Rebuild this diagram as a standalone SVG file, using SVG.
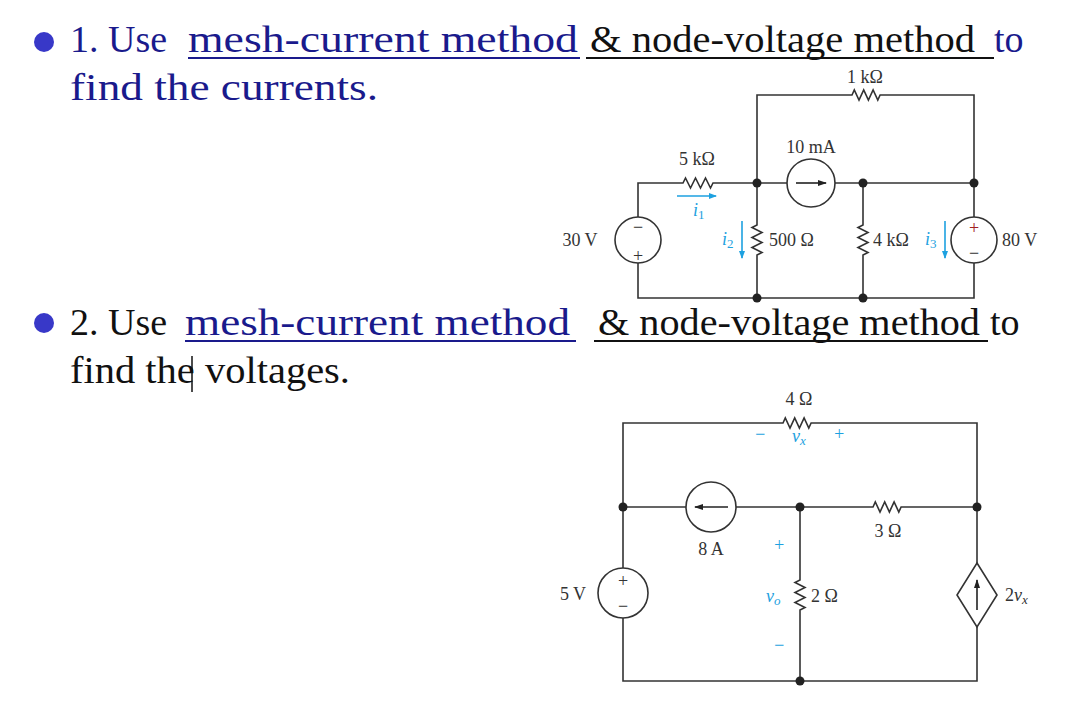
<svg xmlns="http://www.w3.org/2000/svg" width="1083" height="718" viewBox="0 0 1083 718">
<style>
.w{stroke:#333;stroke-width:1.6;fill:none}
.el{stroke:#333;stroke-width:1.6;fill:#fff}
.h{font-family:"Liberation Serif",serif;font-size:38px}
.c{font-family:"Liberation Serif",serif;font-size:18px;fill:#333}
.bl{font-family:"Liberation Serif",serif;font-size:18px;fill:#1da1e0;font-style:italic}
.dot{fill:#222}
</style>
<defs>
<marker id="ab" markerWidth="8" markerHeight="8" refX="7" refY="4" orient="auto" markerUnits="userSpaceOnUse"><path d="M0,1 L8,4 L0,7z" fill="#1da1e0"/></marker>
<marker id="ak" markerWidth="9" markerHeight="8" refX="8" refY="4" orient="auto" markerUnits="userSpaceOnUse"><path d="M0,1 L9,4 L0,7z" fill="#222"/></marker>
</defs>
<rect width="1083" height="718" fill="#fff"/>
<g id="heading1">
<circle cx="44" cy="42" r="10" fill="#3838c8"/>
<text class="h" x="70" y="52" fill="#1a1a8c">1. Use <tspan x="188" textLength="390" lengthAdjust="spacingAndGlyphs">mesh-current method</tspan><tspan x="590" fill="#111" textLength="385" lengthAdjust="spacingAndGlyphs">&amp; node-voltage method</tspan><tspan x="994">to</tspan></text>
<line x1="188" y1="58" x2="580" y2="58" stroke="#1a1a8c" stroke-width="2"/>
<line x1="586" y1="58" x2="994" y2="58" stroke="#111" stroke-width="2"/>
<text class="h" x="70" y="100" fill="#1a1a8c" textLength="308" lengthAdjust="spacingAndGlyphs">find the currents.</text>
</g>
<g id="heading2">
<circle cx="44" cy="323" r="10" fill="#3838c8"/>
<text class="h" x="70" y="335" fill="#111">2. Use <tspan x="185" fill="#1a1a8c" textLength="385" lengthAdjust="spacingAndGlyphs">mesh-current method</tspan><tspan x="598" textLength="382" lengthAdjust="spacingAndGlyphs">&amp; node-voltage method</tspan><tspan x="990">to</tspan></text>
<line x1="185" y1="341" x2="576" y2="341" stroke="#1a1a8c" stroke-width="2"/>
<line x1="594" y1="341" x2="988" y2="341" stroke="#111" stroke-width="2"/>
<text class="h" x="70" y="383" fill="#111" textLength="280" lengthAdjust="spacingAndGlyphs">find the voltages.</text>
<line x1="192" y1="356" x2="192" y2="392" stroke="#111" stroke-width="1.5"/>
</g>
<g id="connectors">
<path class="w" d="M638,217 V183 H683 l2.5,-5 5,10 5,-10 5,10 5,-10 5,10 2.5,-5 H787 M835,183 H974 V217 M757,183 V95 H852 l2.3,-5 4.7,10 4.7,-10 4.7,10 4.7,-10 4.7,10 2.3,-5 H974 V183 M757,183 V225 l-5,2.5 10,5 -10,5 10,5 -10,5 10,5 -5,2.5 V298 M863,183 V225 l-5,2.5 10,5 -10,5 10,5 -10,5 10,5 -5,2.5 V298 M638,263 V298 H974 V263"/>
<path class="w" d="M623,568 V423 H783 l2.3,-5 4.7,10 4.7,-10 4.7,10 4.7,-10 4.7,10 2.3,-5 H977 V563 M623,507 H686 M736,507 H873 l2.3,-5 4.7,10 4.7,-10 4.7,10 4.7,-10 4.7,10 2.3,-5 H977 M800,507 V580 l-5,2.5 10,5 -10,5 10,5 -10,5 10,5 -5,2.5 V681 M623,618 V681 H977 V627"/>
</g>
<g id="circuit1-nodes">
<circle class="dot" cx="757" cy="183" r="4.5"/><circle class="dot" cx="863" cy="183" r="4.5"/><circle class="dot" cx="974" cy="183" r="4.5"/>
<circle class="dot" cx="757" cy="298" r="4.5"/><circle class="dot" cx="863" cy="298" r="4.5"/>
</g>
<g id="src30V"><circle class="el" cx="638" cy="240" r="23"/><text class="c" x="638" y="233" text-anchor="middle">−</text><text class="c" x="638" y="262" text-anchor="middle">+</text><text class="c" x="580" y="246" text-anchor="middle">30 V</text></g>
<g id="src10mA"><circle class="el" cx="811" cy="183" r="24"/><line x1="796" y1="183" x2="826" y2="183" stroke="#222" stroke-width="1.6" marker-end="url(#ak)"/><text class="c" x="811" y="153" text-anchor="middle">10 mA</text></g>
<g id="src80V"><circle class="el" cx="974" cy="240" r="23"/><text x="974" y="234" text-anchor="middle" font-family="Liberation Serif" font-size="18" fill="#a02020">+</text><text class="c" x="974" y="259" text-anchor="middle">−</text><text class="c" x="1002" y="246">80 V</text></g>
<g id="labels1">
<text class="c" x="697" y="165" text-anchor="middle">5 kΩ</text>
<text class="c" x="865" y="83" text-anchor="middle">1 kΩ</text>
<line x1="677" y1="196" x2="716" y2="196" stroke="#1da1e0" stroke-width="1.6" marker-end="url(#ab)"/>
<text class="bl" x="693" y="216">i<tspan font-size="13" dy="3" font-style="normal">1</tspan></text>
<text class="bl" x="722" y="245">i<tspan font-size="13" dy="3" font-style="normal">2</tspan></text>
<line x1="742" y1="221" x2="742" y2="258" stroke="#1da1e0" stroke-width="1.6" marker-end="url(#ab)"/>
<text class="c" x="769" y="246">500 Ω</text>
<text class="c" x="873" y="246">4 kΩ</text>
<text class="bl" x="925" y="245">i<tspan font-size="13" dy="3" font-style="normal">3</tspan></text>
<line x1="945" y1="221" x2="945" y2="258" stroke="#1da1e0" stroke-width="1.6" marker-end="url(#ab)"/>
</g>
<g id="circuit2-nodes">
<circle class="dot" cx="623" cy="507" r="4.5"/><circle class="dot" cx="800" cy="507" r="4.5"/><circle class="dot" cx="977" cy="507" r="4.5"/><circle class="dot" cx="800" cy="681" r="4.5"/>
</g>
<g id="src8A"><circle class="el" cx="711" cy="507" r="25"/><line x1="728" y1="507" x2="695" y2="507" stroke="#222" stroke-width="1.6" marker-end="url(#ak)"/><text class="c" x="711" y="555" text-anchor="middle">8 A</text></g>
<g id="src5V"><circle class="el" cx="623" cy="593" r="25"/><text class="c" x="623" y="587" text-anchor="middle">+</text><text class="c" x="623" y="612" text-anchor="middle">−</text><text class="c" x="573" y="600" text-anchor="middle">5 V</text></g>
<g id="dep"><path class="el" d="M977,563 L997,595 977,627 957,595z"/><line x1="977" y1="610" x2="977" y2="580" stroke="#222" stroke-width="1.6" marker-end="url(#ak)"/><text class="c" x="1005" y="601">2<tspan font-style="italic">v</tspan><tspan font-size="13" font-style="italic" dy="3">x</tspan></text></g>
<g id="labels2">
<text class="c" x="799" y="405" text-anchor="middle">4 Ω</text>
<text class="bl" x="760" y="440" text-anchor="middle" font-style="normal">−</text>
<text class="bl" x="792" y="442">v<tspan font-size="13" dy="3">x</tspan></text>
<text class="bl" x="839" y="440" text-anchor="middle" font-style="normal">+</text>
<text class="c" x="888" y="537" text-anchor="middle">3 Ω</text>
<text class="bl" x="779" y="551" text-anchor="middle" font-style="normal">+</text>
<text class="bl" x="766" y="602">v<tspan font-size="13" dy="3">o</tspan></text>
<text class="c" x="811" y="602">2 Ω</text>
<text class="bl" x="779" y="651" text-anchor="middle" font-style="normal">−</text>
</g>
</svg>
